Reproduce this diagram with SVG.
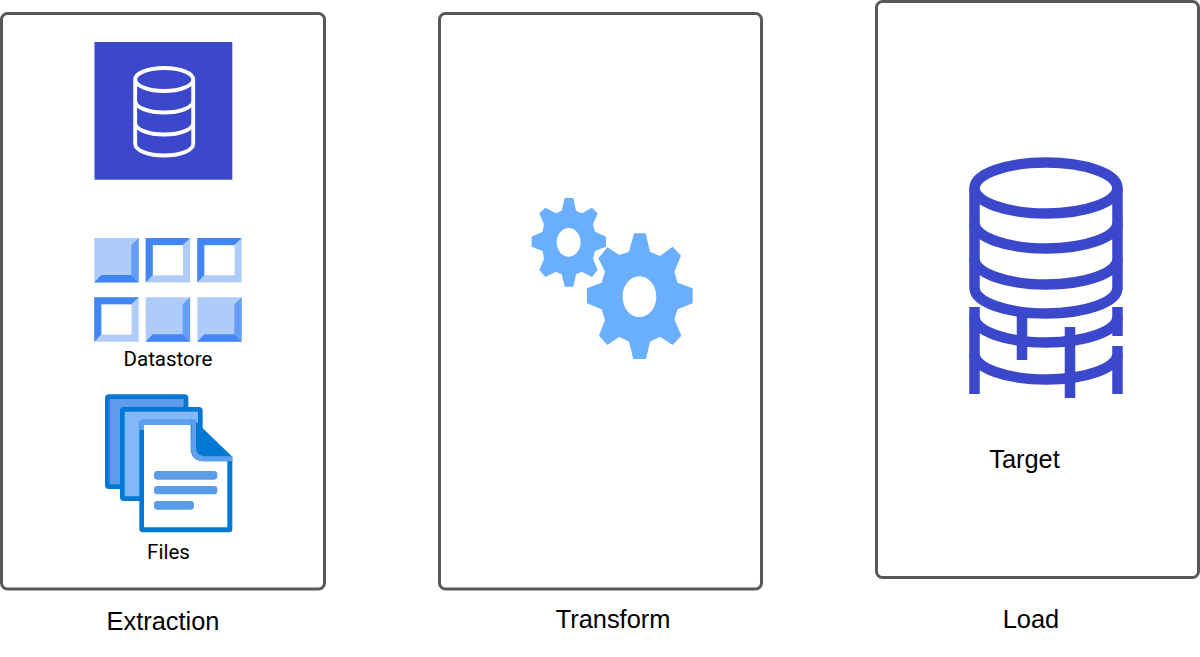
<svg xmlns="http://www.w3.org/2000/svg" width="1200" height="657" viewBox="0 0 1200 657">
<style>
.panel{fill:#fff;stroke:#595959;stroke-width:3}
text{fill:#000;text-anchor:middle}
.big{font-family:"Liberation Sans",Arial,sans-serif;font-size:25.400px}
.small{font-family:Roboto,"Liberation Sans",sans-serif;font-size:20.500px}
.lt{fill:#aecbfa}.md{fill:#669df6}.dk{fill:#4285f4}.wh{fill:#fff}
.cyl{fill:none;stroke:#fff;stroke-width:3.800}
.tgt{fill:none;stroke:#3b48cc;stroke-width:10.500}
.gear{fill:#69aeff;fill-rule:evenodd}
</style>
<defs>
<g id="sqA"><rect width="44.4" height="44.4" class="lt"/><path class="md" d="M44.4 0V44.4L37 37V7Z"/><path class="dk" d="M0 44.4H44.4L37 37H7Z"/></g>
<g id="sqB"><rect width="44.4" height="44.4" class="lt"/><path class="dk" d="M0 0H44.4L37 7H7V37L0 44.4Z"/><rect x="7.3" y="7.3" width="30" height="30" class="wh"/></g>
</defs>
<rect width="1200" height="657" fill="#fff"/>
<g id="connectors"></g>
<g id="extraction">
<rect class="panel" x="1.5" y="13.5" width="323" height="575.500" rx="6"/>
<text class="big" x="163" y="629.500">Extraction</text>
</g>
<g id="database-icon">
<rect x="94.500" y="42" width="137.800" height="137.700" fill="#3b48cc"/>
<g class="cyl">
<ellipse cx="164.200" cy="79.500" rx="29" ry="11.500"/>
<path d="M135.200 79.500V144A29 11.500 0 0 0 193.200 144V79.500"/>
<path d="M135.200 101A29 11.500 0 0 0 193.200 101"/>
<path d="M135.200 123A29 11.500 0 0 0 193.200 123"/>
</g>
</g>
<g id="datastore">
<use href="#sqA" x="94.300" y="238"/>
<use href="#sqB" x="145.700" y="238"/>
<use href="#sqB" x="197.300" y="238"/>
<use href="#sqB" x="94.300" y="297.300"/>
<use href="#sqA" x="145.700" y="297.300"/>
<use href="#sqA" x="197.300" y="297.300"/>
<text class="small" x="168" y="366">Datastore</text>
</g>
<g id="files">
<g transform="translate(90 385) scale(.33333)">
<rect x="52" y="35" width="236" height="270" rx="5" fill="#5e9ceb" stroke="#0078d4" stroke-width="14"/>
<rect x="97" y="73" width="234" height="268" rx="5" fill="#83b9f9" stroke="#0078d4" stroke-width="14"/>
<path d="M158 104H312L427 215V432Q427 442 417 442H158Q148 442 148 432V114Q148 104 158 104Z" fill="#0078d4"/>
<path d="M162 120H302V190Q302 225 337 229H412V427H162Z" fill="#fff"/>
<path d="M148 114Q148 104 158 104H305V120H162V135H148Z" fill="#5ea0ef"/>
<path d="M305 104H318V185Q318 212 345 214H427V229H345Q305 229 303 190Z" fill="#5ea0ef"/>
<rect x="192" y="258" width="190" height="26" rx="10" fill="#5a9bea"/>
<rect x="192" y="303" width="190" height="25" rx="10" fill="#5a9bea"/>
<rect x="192" y="348" width="120" height="26" rx="10" fill="#5a9bea"/>
</g>
<text class="small" x="168.500" y="559">Files</text>
</g>
<g id="transform">
<rect class="panel" x="439.500" y="13.500" width="322" height="575.500" rx="6"/>
<text class="big" x="613" y="628">Transform</text>
</g>
<g id="gears" transform="translate(520 190) scale(.33333)">
<path class="gear" d="M134 24H160L168 62L186 70L216 53L233 70L219 103L225 125L258 140V170L225 183L219 207L233 240L216 261L186 245L168 253L160 290H134L125 253L108 245L76 261L58 240L72 207L68 183L35 170V140L68 125L72 103L58 70L76 53L108 70L125 62ZM146 114C126 114 110 133 110 157S126 200 146 200S182 181 182 157S166 114 146 114Z"/>
<path class="gear" d="M342 130H377L390 185L420 198L458 170L483 197L463 245L473 278L518 295V340L473 358L463 388L484 437L458 465L420 440L390 455L378 507H340L327 455L298 440L262 465L237 437L255 390L245 358L201 340V295L245 278L255 245L235 205L262 172L298 195L327 185ZM358 259C330 259 308 286 308 320S330 381 358 381S409 354 409 320S386 259 358 259Z"/>
</g>
<g id="load">
<rect class="panel" x="876.500" y="1.500" width="322" height="576" rx="6"/>
<text class="big" x="1031" y="628">Load</text>
</g>
<g id="target-icon">
<g class="tgt">
<ellipse cx="1046" cy="188" rx="71.500" ry="25.500"/>
<path d="M974.500 188V288A71.500 25.500 0 0 0 1117.500 288V188"/>
<path d="M974.500 223A71.500 25.500 0 0 0 1117.500 223"/>
<path d="M974.500 259A71.500 25.500 0 0 0 1117.500 259"/>
<path d="M974.500 307V394M1117.500 307V336M1117.500 346V394M1022 316V360M1070 327V398"/>
<path d="M974.500 317A71.500 25.500 0 0 0 1117.500 317"/>
<path d="M974.500 354A71.500 25.500 0 0 0 1117.500 354"/>
</g>
<text class="big" x="1024.500" y="467.500">Target</text>
</g>
</svg>
